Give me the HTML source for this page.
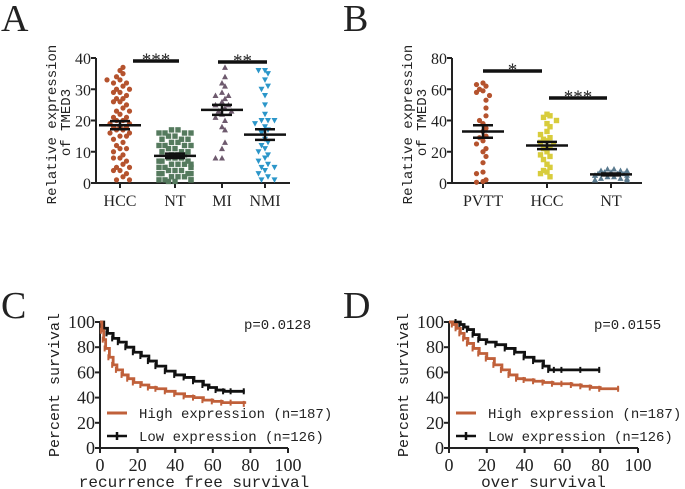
<!DOCTYPE html>
<html><head><meta charset="utf-8"><style>
html,body{margin:0;padding:0;background:#fff;}
svg{display:block;}
text{font-family:"Liberation Serif",serif;fill:#222;}
.mono{font-family:"Liberation Mono",monospace;}
</style></head><body>
<svg id="fig" width="685" height="489" viewBox="0 0 685 489"></svg>
<script>
// ---- Panel A data ----
const aCats=["HCC","NT","MI","NMI"];
const aHCC=[37,36,35,34,33,32,32,31,30,29,29,28,27,26,26,25,24,23,22,21,20,20,19,19,18,18,18,17,17,16,16,15,14,13,12,11,10,9,8,8,7,6,5,4,4,3,2,1,1,23,27,21,15,11,5,33,30];
const aNT=[17,17,16,16,16,15,15,14,14,13,13,12,12,12,11,11,10,10,10,9,9,8,8,8,7,7,7,6,6,6,5,5,5,4,4,4,3,3,3,2,2,2,1,1,1,0.5,0.5,16,14,12,9,6,3,1];
const aMI=[37,34,32,31,29,28,28,27,26,25,25,24,23,23,22,21,20,18,17,13,11,8,8];
const aNMI=[36,36,35,33,31,30,28,25,22,20,20,20,19,18,17,16,14,13,12,11,10,9,8,7,6,5,5,4,3,2,1,1];
const aMeans=[18.5,8.7,23.4,15.5];
const aSem=[1.3,0.7,1.6,1.7];
// ---- Panel B data ----
const bCats=["PVTT","HCC","NT"];
const bPVTT=[64,63,62,60,59,58,56,53,48,43,40,38,35,33,30,29,27,25,22,20,17,13,7,6,2,1,0.5];
const bHCC=[44,43,42,40,38,36,33,31,29,28,27,26,25,23,22,20,18,17,15,12,10,8,7,6,4];
const bNT=[9,9,8,8,8,7,7,6,6,6,5,5,5,4,4,3,3,3,2,2,2];
const bMeans=[33,24,5.5];
const bSem=[4,2.3,0.6];
// ---- Panel C data (time, percent) ----
const cHighT=[0,1,2,3,5,7,9,12,15,18,22,26,30,35,40,45,50,55,60,65,70,77];
const cHighV=[100,93,86,79,72,66,62,58,55,52,50,48,47,45,43,41,40,38,37,36,36,35];
const cLowT=[0,2,4,7,10,14,18,22,26,30,35,40,45,50,55,58,62,66,70,77];
const cLowV=[100,95,91,87,84,80,76,73,69,65,61,58,56,53,50,48,46,45,45,45];
// ---- Panel D data ----
const dHighT=[0,2,4,6,8,10,13,16,20,24,28,32,36,40,45,50,55,60,65,70,75,80,90];
const dHighV=[100,98,95,91,87,83,79,75,71,66,62,58,55,54,53,52,51,51,50,49,48,47,47];
const dLowT=[0,4,6,8,10,13,16,20,25,30,35,40,45,50,53,56,60,70,80];
const dLowV=[100,100,98,96,94,90,86,84,82,79,76,72,69,65,62,62,62,62,62];

const svg=document.getElementById('fig');
const NS="http://www.w3.org/2000/svg";
function el(tag,attrs,parent){const e=document.createElementNS(NS,tag);for(const k in attrs)e.setAttribute(k,attrs[k]);(parent||svg).appendChild(e);return e;}
function txt(s,x,y,attrs,parent){const t=el('text',Object.assign({x:x,y:y},attrs),parent);t.textContent=s;return t;}

function letter(s,x,y,name){const t=txt(s,x,y,{'font-size':38});}
letter("A",1,31,"panel-a-label");letter("B",343,31,"panel-b-label");
letter("C",1,318,"panel-c-label");letter("D",343,318,"panel-d-label");

function marker(g,shape,x,y,color){
  if(shape==='circle')el('circle',{cx:x,cy:y,r:2.6,fill:color},g);
  else if(shape==='square')el('rect',{x:x-2.7,y:y-2.7,width:5.4,height:5.4,fill:color},g);
  else if(shape==='tri')el('polygon',{points:`${x},${y-3} ${x-3},${y+2.5} ${x+3},${y+2.5}`,fill:color},g);
  else el('polygon',{points:`${x},${y+3} ${x-3},${y-2.5} ${x+3},${y-2.5}`,fill:color},g);
}

function scatterPanel(o){
  const g=el('g',{});
  
  
  const ys=v=>o.y0-(v/o.max)*(o.y0-o.yTop);
  el('line',{x1:o.ax,y1:o.yTop,x2:o.ax,y2:o.y0+1,stroke:'#222','stroke-width':2},g);
  el('line',{x1:o.ax-1,y1:o.y0,x2:o.xEnd,y2:o.y0,stroke:'#222','stroke-width':2},g);
  o.ticks.forEach(v=>{
    el('line',{x1:o.ax-5,y1:ys(v),x2:o.ax,y2:ys(v),stroke:'#222','stroke-width':2},g);
    const t=txt(String(v),o.ax-5,ys(v)+6,{'font-size':16,'text-anchor':'end'},g);
    
    
  });
  const mid=o.y0-(o.y0-o.yTop)/2+4;
  const t1=txt("Relative expression",0,0,{'class':'mono','font-size':14,transform:`translate(${o.ax-40},${mid}) rotate(-90)`,'text-anchor':'middle'},g);
  
  const t2=txt("of TMED3",0,0,{'class':'mono','font-size':14,transform:`translate(${o.ax-26},${mid-2}) rotate(-90)`,'text-anchor':'middle'},g);
  
  o.cats.forEach((c,i)=>{
    const cx=o.xs[i];
    el('line',{x1:cx,y1:o.y0,x2:cx,y2:o.y0+5,stroke:'#222','stroke-width':2},g);
    const t=txt(c,cx,o.y0+23,{'font-size':16,'text-anchor':'middle'},g);
    
    const sg=el('g',{},g);
    
    
    const vals=o.data[i];
    const counts={};
    vals.forEach(v=>{
      const b=Math.round(v/o.bin);counts[b]=(counts[b]||0)+1;
      const k=counts[b]-1;
      const off=(k%2===0?1:-1)*Math.ceil(k/2)*6.5+((b%2)?3:0);
      marker(sg,o.shapes[i],cx+Math.max(-o.half,Math.min(o.half,off)),ys(v),o.colors[i]);
    });
    const m=o.means[i],s=o.sem[i];
    el('line',{x1:cx-o.half-5,y1:ys(m),x2:cx+o.half+5,y2:ys(m),stroke:'#111','stroke-width':2.5},g);
    el('line',{x1:cx-10,y1:ys(m+s),x2:cx+10,y2:ys(m+s),stroke:'#111','stroke-width':2.5},g);
    el('line',{x1:cx-10,y1:ys(m-s),x2:cx+10,y2:ys(m-s),stroke:'#111','stroke-width':2.5},g);
    el('line',{x1:cx,y1:ys(m+s),x2:cx,y2:ys(m-s),stroke:'#111','stroke-width':2.5},g);
  });
  o.sig.forEach(s=>{
    el('line',{x1:s[0],y1:s[1],x2:s[2],y2:s[1],stroke:'#111','stroke-width':3.5},g);
    const t=txt(s[3],(s[0]+s[2])/2,s[1]+5,{'font-size':19,'text-anchor':'middle','fill':'#444'},g);
    
  });
}

scatterPanel({name:'panel-a-scatter',ax:96,y0:183,yTop:58,xEnd:290,max:40,ticks:[0,10,20,30,40],
  cats:aCats,xs:[120,175,222,265],data:[aHCC,aNT,aMI,aNMI],means:aMeans,sem:aSem,bin:1.8,half:16,
  shapes:['circle','square','tri','dtri'],colors:['#b5532e','#557a5e','#6e5a6e','#2b96c9'],
  sig:[[133,61,179,'***'],[218,62,267,'**']]});
scatterPanel({name:'panel-b-scatter',ax:452,y0:183,yTop:58,xEnd:642,max:80,ticks:[0,20,40,60,80],
  cats:bCats,xs:[483,547,611],data:[bPVTT,bHCC,bNT],means:bMeans,sem:bSem,bin:3.2,half:16,
  shapes:['circle','square','tri'],colors:['#b5532e','#d8cc3c','#5a7a8e'],
  sig:[[483,71,542,'*'],[549,98,607,'***']]});

function kmPanel(o){
  const g=el('g',{});
  
  
  const xs=t=>o.ax+t/100*(o.xEnd-o.ax), ys=v=>o.y0-v/100*(o.y0-o.yTop);
  el('line',{x1:o.ax,y1:o.yTop,x2:o.ax,y2:o.y0+1,stroke:'#222','stroke-width':2},g);
  el('line',{x1:o.ax-1,y1:o.y0,x2:o.xEnd,y2:o.y0,stroke:'#222','stroke-width':2},g);
  [0,20,40,60,80,100].forEach(v=>{
    el('line',{x1:o.ax-5,y1:ys(v),x2:o.ax,y2:ys(v),stroke:'#222','stroke-width':2},g);
    const t=txt(String(v),o.ax-5,ys(v)+6,{'font-size':18,'text-anchor':'end'},g);
    
    el('line',{x1:xs(v),y1:o.y0,x2:xs(v),y2:o.y0+5,stroke:'#222','stroke-width':2},g);
    const t2=txt(String(v),xs(v),o.y0+23,{'font-size':18,'text-anchor':'middle'},g);
    
  });
  const yt=txt("Percent survival",0,0,{'class':'mono','font-size':15,transform:`translate(${o.ax-41},${(o.y0+o.yTop)/2}) rotate(-90)`,'text-anchor':'middle'},g);
  
  const xt=txt(o.xlabel,(o.ax+o.xEnd)/2,o.y0+39,{'class':'mono','font-size':16,'text-anchor':'middle'},g);
  
  const pt=txt(o.p,o.xEnd-44,o.yTop+7,{'class':'mono','font-size':14},g);
  
  [[o.lowT,o.lowV,'#111','low'],[o.highT,o.highV,'#c0603a','high']].forEach(s=>{
    let d=`M${xs(s[0][0])},${ys(s[1][0])}`;
    for(let i=1;i<s[0].length;i++){d+=` H${xs(s[0][i])} V${ys(s[1][i])}`;}
    const p=el('path',{d:d,fill:'none',stroke:s[2],'stroke-width':2.8},g);
    
    
    for(let i=1;i<s[0].length;i++){
      el('line',{x1:xs(s[0][i])-1,y1:ys(s[1][i])-3,x2:xs(s[0][i])-1,y2:ys(s[1][i])+3,stroke:s[2],'stroke-width':2},g);
    }
  });
  const lg=el('g',{},g);
  
  const lx=o.ax+7;
  el('line',{x1:lx,y1:413,x2:lx+20,y2:413,stroke:'#c0603a','stroke-width':3},lg);
  const l1=txt("High expression (n=187)",lx+32,418,{'class':'mono','font-size':14},lg);
  
  el('line',{x1:lx,y1:436,x2:lx+20,y2:436,stroke:'#111','stroke-width':2.5},lg);
  el('line',{x1:lx+10,y1:432,x2:lx+10,y2:440,stroke:'#111','stroke-width':2.5},lg);
  const l2=txt("Low expression (n=126)",lx+32,441,{'class':'mono','font-size':14},lg);
  
}
kmPanel({name:'panel-c-km',ax:100,xEnd:288,y0:448,yTop:322,xlabel:'recurrence free survival',p:'p=0.0128',
  highT:cHighT,highV:cHighV,lowT:cLowT,lowV:cLowV});
kmPanel({name:'panel-d-km',ax:449,xEnd:638,y0:448,yTop:322,xlabel:'over survival',p:'p=0.0155',
  highT:dHighT,highV:dHighV,lowT:dLowT,lowV:dLowV});
</script>
</body></html>
